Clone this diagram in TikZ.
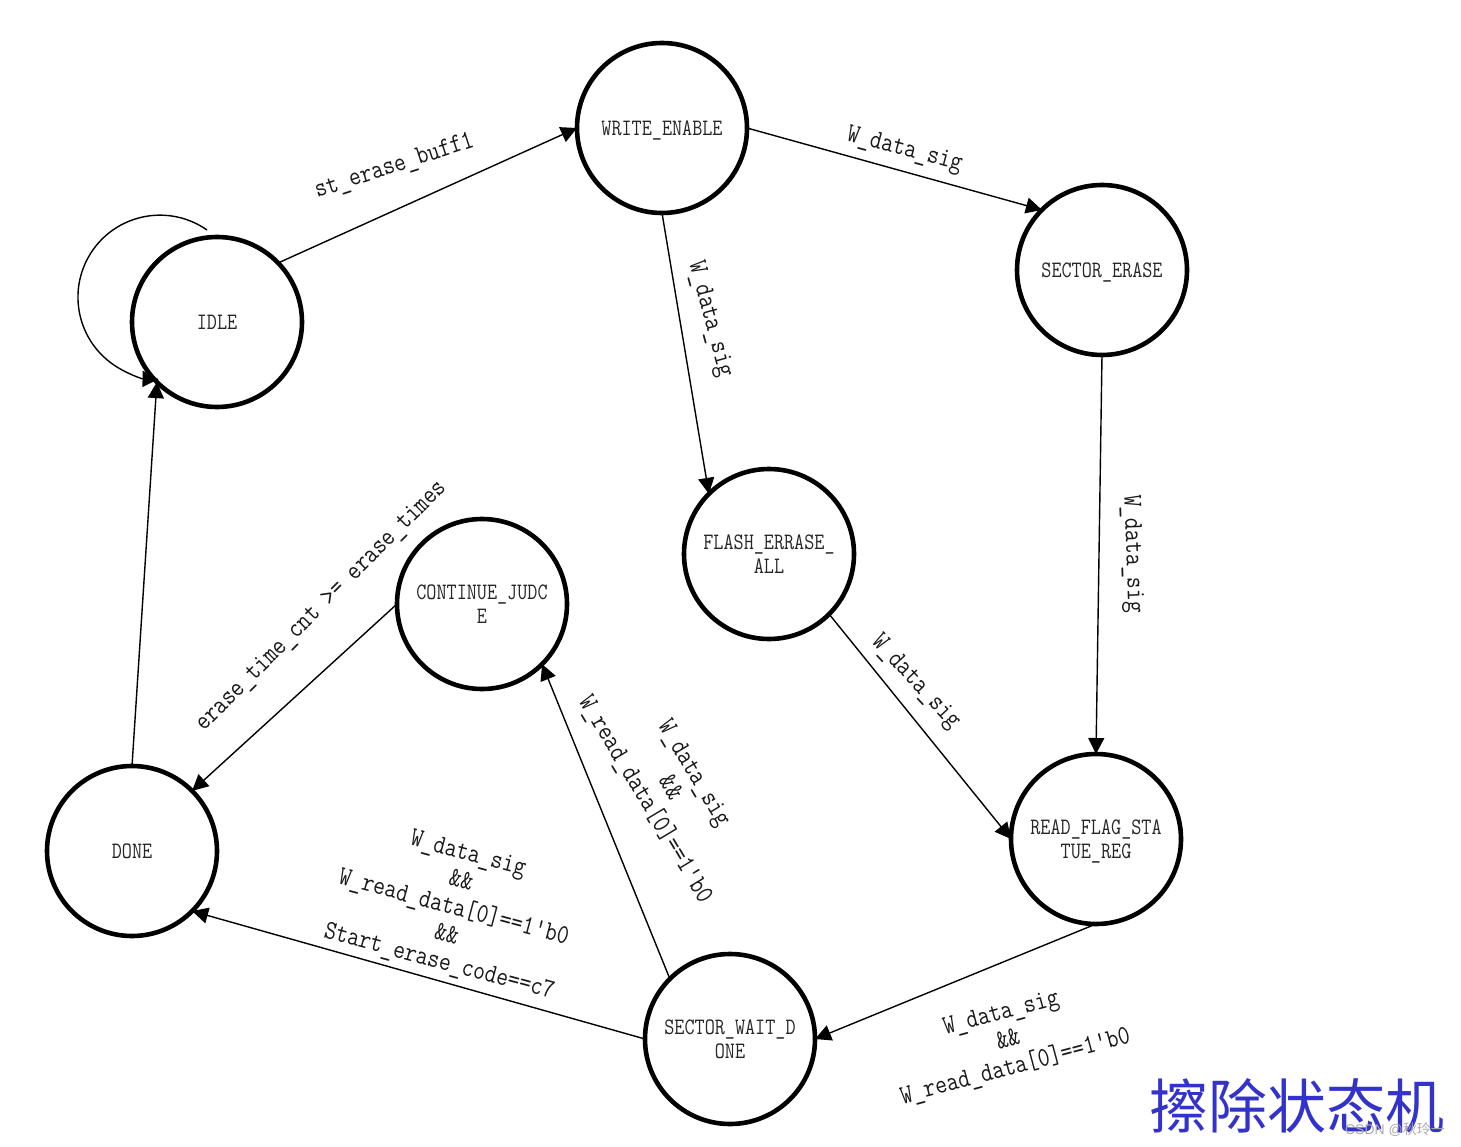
\documentclass[tikz,border=0pt]{standalone}
\usepackage{fontspec}
\usepackage{graphicx}
\usetikzlibrary{arrows.meta}
\newfontfamily\cjk{Noto Sans CJK SC}
\newfontfamily\wmfont{Liberation Sans}
\definecolor{titleblue}{RGB}{51,51,204}
\definecolor{wmgray}{RGB}{170,170,170}
\newcommand{\tallstate}[1]{\raisebox{0pt}[\dimexpr\height+6pt\relax]{\scalebox{1}[1.2]{\begin{tabular}{@{}c@{}}#1\end{tabular}}}}
\newcommand{\talllab}[1]{\raisebox{0pt}[\dimexpr\height+4pt\relax]{\scalebox{1}[1.18]{\begin{tabular}{@{}c@{}}#1\end{tabular}}}}
\tikzset{
  x=1pt,y=-1pt,
  state/.style={circle,draw=black,line width=4.6pt,minimum size=170pt,inner sep=0pt,outer sep=0pt,
    font=\ttfamily\fontsize{19.6}{20}\selectfont,text=black!85},
  link/.style={line width=1.4pt,-{Triangle[length=16pt,width=16pt]}},
  lab/.style={inner sep=0pt,font=\ttfamily\fontsize{23}{23.7}\selectfont,text=black!90},
}
\begin{document}
\begin{tikzpicture}
\useasboundingbox (0,0) rectangle (1461,1147);
\node[state] (idle) at (217,322) {\tallstate{IDLE}};
\node[state] (write) at (662,128) {\tallstate{WRITE\_ENABLE}};
\node[state] (sector) at (1102,270) {\tallstate{SECTOR\_ERASE}};
\node[state] (flash) at (769,554) {\tallstate{FLASH\_ERRASE\_\\ALL}};
\node[state] (cont) at (482,604) {\tallstate{CONTINUE\_JUDC\\E}};
\node[state] (done) at (132,851) {\tallstate{DONE}};
\node[state] (read) at (1096,839) {\tallstate{READ\_FLAG\_STA\\TUE\_REG}};
\node[state] (wait) at (730,1039) {\tallstate{SECTOR\_WAIT\_D\\ONE}};
\draw[link] (idle.44) -- (write.west);
\draw[link] (write.east) -- (sector.135);
\draw[link] (write.south) -- (flash.135);
\draw[link] (sector.south) -- (read.north);
\draw[link] (flash.-45) -- (read.west);
\draw[link] (read.south) -- (wait.east);
\draw[link] (wait.135) -- (cont.-45);
\draw[link] (wait.west) -- (done.-45);
\draw[link] (cont.west) -- (done.45);
\draw[link] (done.north) -- (idle.225);
\coordinate (loopstart) at (207,230);
\draw[link] (loopstart) arc[start angle=55,end angle=269,radius=82pt];
\node[lab,rotate=18] (l1) at (394,165) {\talllab{st\_erase\_buff1}};
\node[lab,rotate=-15] (l2) at (905,148) {\talllab{W\_data\_sig}};
\node[lab,rotate=-75] (l3) at (712,319) {\talllab{W\_data\_sig}};
\node[lab,rotate=-88] (l4) at (1134,554) {\talllab{W\_data\_sig}};
\node[lab,rotate=-47] (l5) at (917,681) {\talllab{W\_data\_sig}};
\node[lab,rotate=45] (l6) at (320,605) {\talllab{erase\_time\_cnt >= erase\_times}};
\node[lab,rotate=-59] (l7) at (646,799) {\talllab{W\_read\_data[0]==1'b0}};
\node[lab,rotate=-59] (l8) at (683,780) {\talllab{W\_data\_sig\\\&\&}};
\node[lab,rotate=-15] (l9) at (454,907) {\talllab{W\_data\_sig\\\&\&\\W\_read\_data[0]==1'b0\\\&\&\\Start\_erase\_code==c7}};
\node[lab,rotate=15] (l10) at (1008,1039) {\talllab{W\_data\_sig\\\&\&\\W\_read\_data[0]==1'b0}};
\node[inner sep=0pt,text=titleblue,font=\cjk\fontsize{59}{59}\selectfont] (title) at (1297,1106) {擦除状态机};
\node[inner sep=0pt,text=wmgray,font=\fontsize{14}{14}\selectfont] (wm) at (1395,1130) {\wmfont CSDN @\cjk 秋玲一};
\end{tikzpicture}
\end{document}
